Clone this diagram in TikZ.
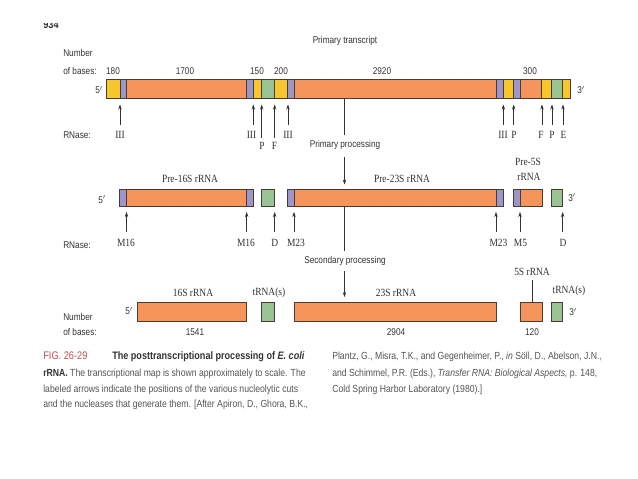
\documentclass[tikz,border=0pt]{standalone}
\usepackage{fontspec}
\setmainfont{Liberation Serif}
\newfontfamily\figsans[FakeStretch=0.84]{Liberation Sans}
\newfontfamily\figserif[FakeStretch=0.86]{Liberation Serif}
\usetikzlibrary{arrows.meta}
\definecolor{rorange}{HTML}{F5955B}
\definecolor{ryellow}{HTML}{F8C72E}
\definecolor{rpurple}{HTML}{9D96CB}
\definecolor{rgreen}{HTML}{9AC394}
\definecolor{redge}{HTML}{4A3B30}
\definecolor{rink}{HTML}{333333}
\definecolor{rcap}{HTML}{555555}
\definecolor{rfig}{HTML}{C0504D}

\begin{document}
\begin{tikzpicture}[x=1pt, y=-1pt, >={Stealth[length=5pt,width=3.4pt]}, line width=0.6pt,
    seg/.style={draw=redge, line width=0.6pt},
    cut/.style={->, draw=rink, line width=0.6pt},
    sanslab/.style={font=\figsans\fontsize{9.8}{11}\selectfont, text=rink, inner sep=0pt},
    serlab/.style={font=\figserif\fontsize{11}{12}\selectfont, text=rink, inner sep=0pt},
    caplab/.style={font=\figsans\fontsize{10.3}{12}\selectfont, text=rcap, anchor=base west, inner sep=0pt}]
  \useasboundingbox (0,0) rectangle (638,479);
  \fill[white] (0,0) rectangle (638,479);

  % page number, cut at the top
  \begin{scope}
    \clip (30,23.5) rectangle (80,40);
    \node[font=\figsans\bfseries\fontsize{11}{12}\selectfont, text=rink, anchor=base west, inner sep=0pt] (pageno) at (43,28) {934};
  \end{scope}

  % ---- primary transcript ----
  \node[sanslab] (ptitle) at (345,41) {Primary transcript};
  \node[sanslab, anchor=west] (nb1a) at (63,53) {Number};
  \node[sanslab, anchor=west] (nb1b) at (63,71) {of bases:};
  \foreach \x/\n [count=\i] in {113/180, 185/1700, 257/150, 281/200, 382/2920, 530/300}
    \node[sanslab] (len1\i) at (\x,71) {\n};
  \foreach \xa/\xb/\c in {106.7/120/ryellow, 120/126.7/rpurple, 126.7/246/rorange,
      246/253.3/rpurple, 253.3/261.7/ryellow, 261.7/274.7/rgreen, 274.7/287.7/ryellow,
      287.7/294.7/rpurple, 294.7/496/rorange, 496/503.3/rpurple, 503.3/513.3/ryellow,
      513.3/520.7/rpurple, 520.7/541.3/rorange, 541.3/551.7/ryellow, 551.7/562/rgreen,
      562/570.7/ryellow}
    \filldraw[seg, fill=\c] (\xa,79) rectangle (\xb,98.5);
  \node[sanslab, anchor=east] (five1) at (103,90) {5$'$};
  \node[sanslab, anchor=west] (three1) at (577,90) {3$'$};

  % cuts in the primary transcript
  \node[sanslab, anchor=west] (rn1) at (63,135) {RNase:};
  \foreach \x/\lx/\ly/\tl/\lab [count=\i] in {120/120/135/125/III, 253.3/251.5/135/125/III,
      261.7/262/145.5/138/P, 274.7/274.5/145.5/138/F, 288/288/135/125/III,
      503.3/503/135/125/III, 513.7/514/135/125/P, 542/541/135/125/F,
      552/552/135/125/P, 563/563.5/135/125/E} {
    \coordinate (ca\i) at (\x,104.5);
    \node[serlab] (ea\i) at (\lx,\ly) {\lab};
    \draw[cut] (\x,\tl) -- (ca\i);
  }

  % primary processing
  \coordinate (pp0) at (344.5,98.5);
  \coordinate (pp1) at (344.5,184.5);
  \node[sanslab] (ppl) at (345,145) {Primary processing};
  \draw[rink] (pp0) -- (344.5,135);
  \draw[cut] (344.5,157) -- (pp1);

  % ---- precursors ----
  \node[serlab] (pre16) at (190,179) {Pre-16S rRNA};
  \node[serlab] (pre23) at (402,179) {Pre-23S rRNA};
  \node[serlab] (pre5a) at (528,162) {Pre-5S};
  \node[serlab] (pre5b) at (529,177) {rRNA};
  \foreach \xa/\xb/\c in {119.3/126.7/rpurple, 126.7/246/rorange, 246/253.3/rpurple,
      261.7/274.7/rgreen, 287.7/294.7/rpurple, 294.7/496/rorange, 496/503.7/rpurple,
      513.3/520.7/rpurple, 520.7/542/rorange, 551.7/562.3/rgreen}
    \filldraw[seg, fill=\c] (\xa,189) rectangle (\xb,206.7);
  \node[sanslab, anchor=east] (five2) at (106,199.5) {5$'$};
  \node[sanslab, anchor=west] (three2) at (568,197.5) {3$'$};

  % cuts in the precursors
  \node[sanslab, anchor=west] (rn2) at (63,245) {RNase:};
  \foreach \x/\lx/\lab [count=\i] in {126.5/126/M16, 246.7/246/M16, 274.7/274.7/D,
      294/296/M23, 496/498.5/M23, 520/520.5/M5, 562.7/563/D} {
    \coordinate (cb\i) at (\x,212);
    \node[serlab] (eb\i) at (\lx,243) {\lab};
    \draw[cut] (\x,232) -- (cb\i);
  }

  % secondary processing
  \coordinate (sp0) at (344.5,206.7);
  \coordinate (sp1) at (344.5,297);
  \node[sanslab] (spl) at (345,261) {Secondary processing};
  \draw[rink] (sp0) -- (344.5,251);
  \draw[cut] (344.5,271) -- (sp1);

  % ---- mature products ----
  \node[serlab] (r16) at (193,293) {16S rRNA};
  \node[serlab] (t1) at (269,293) {tRNA(s)};
  \node[serlab] (r23) at (396,293) {23S rRNA};
  \node[serlab] (r5) at (532,272) {5S rRNA};
  \node[serlab] (t2) at (569,291) {tRNA(s)};
  \foreach \xa/\xb/\c in {137.3/246.3/rorange, 261.7/274.7/rgreen, 294.3/496.7/rorange,
      520.3/542/rorange, 551.7/562.7/rgreen}
    \filldraw[seg, fill=\c] (\xa,302.7) rectangle (\xb,321.3);
  \coordinate (r5b) at (532.5,302.7);
  \draw[rink] (532.5,279.5) -- (r5b);
  \node[sanslab, anchor=east] (five3) at (133,311) {5$'$};
  \node[sanslab, anchor=west] (three3) at (569,312) {3$'$};
  \node[sanslab, anchor=west] (nb3a) at (63,317) {Number};
  \node[sanslab, anchor=west] (nb3b) at (63,332) {of bases:};
  \node[sanslab] (len31) at (195,332) {1541};
  \node[sanslab] (len32) at (396,332) {2904};
  \node[sanslab] (len33) at (532,332) {120};

  % caption
  \node[caplab, text=rfig, font=\figsans\fontsize{11}{12}\selectfont] (capno) at (43,359) {FIG. 26-29};
  \node[caplab, text=rink, font=\figsans\bfseries\fontsize{10.8}{12}\selectfont] (captitle) at (112,359)
    {The posttranscriptional processing of \textit{E. coli}};
  \node[caplab] (capl2) at (43,376) {\textbf{\color{rink}rRNA.} The transcriptional map is shown approximately to scale. The};
  \node[caplab] (capl3) at (43,392) {labeled arrows indicate the positions of the various nucleolytic cuts};
  \node[caplab] (capl4) at (43,407.5) {and the nucleases that generate them. [After Apiron, D., Ghora, B.K.,};
  \node[caplab] (capr1) at (332,359) {Plantz, G., Misra, T.K., and Gegenheimer, P., \textit{in} Söll, D., Abelson, J.N.,};
  \node[caplab] (capr2) at (332,376) {and Schimmel, P.R. (Eds.), \textit{Transfer RNA: Biological Aspects,} p. 148,};
  \node[caplab] (capr3) at (332,392) {Cold Spring Harbor Laboratory (1980).]};
\end{tikzpicture}
\end{document}
